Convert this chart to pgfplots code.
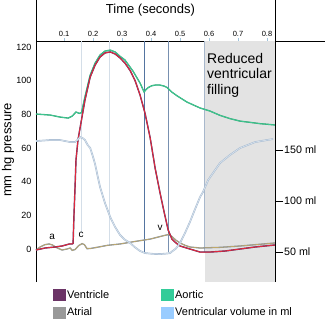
\documentclass[border=0pt]{standalone}
\usepackage{fontspec}
\setmainfont{Liberation Sans}
\usepackage{pgfplots}
\pgfplotsset{compat=1.18}
\definecolor{aort}{HTML}{3FC891}
\definecolor{ventred}{HTML}{E0283C}
\definecolor{ventdark}{HTML}{4A3A70}
\definecolor{atrtan}{HTML}{C0A868}
\definecolor{atrblue}{HTML}{8090A8}
\definecolor{volout}{HTML}{A9BDD3}
\definecolor{volin}{HTML}{E2EAF2}
\definecolor{legvent}{HTML}{6B3466}
\definecolor{legatr}{HTML}{999999}
\definecolor{legaort}{HTML}{33CC99}
\definecolor{legvol}{HTML}{99CCFF}
\definecolor{shade}{HTML}{E3E3E3}
\definecolor{vlight}{HTML}{D4DEE8}
\definecolor{vdark}{HTML}{5474A0}
\definecolor{vmid}{HTML}{7890B0}
\definecolor{vpale}{HTML}{A8B8CC}
\definecolor{ticklb}{HTML}{A0C4DC}
\begin{document}
\begin{tikzpicture}
\begin{axis}[
  scale only axis, width=239pt, height=241pt,
  xmin=0.003, xmax=0.8276, ymin=-19.6, ymax=123.6,
  axis x line*=top, axis y line*=left,
  axis line style={-, black, line width=0.8pt},
  xtick={0.1,0.2,0.3,0.4,0.5,0.6,0.7,0.8},
  xticklabel style={font=\fontsize{7.5}{8}\selectfont, inner sep=1pt, /pgf/number format/.cd, fixed, fixed zerofill, precision=1, assume math mode=true},
  x tick style={color=ticklb, line width=0.8pt},
  tick align=outside,
  major tick length=3pt,
  ytick={0,20,40,60,80,100,120},
  y tick style={draw=none},
  yticklabel style={font=\fontsize{9}{10}\selectfont, inner sep=1.5pt, /pgf/number format/assume math mode=true},
  clip=false,
  legend columns=2,
  legend cell align=left,
  legend style={at={(rel axis cs:0.071,-0.025)}, anchor=north west, draw=none, fill=none, inner sep=0pt,
    font=\fontsize{11}{12}\selectfont, row sep=4pt,
    /tikz/every even column/.append style={column sep=50pt}},
  legend image code/.code={\fill[#1] (0pt,-5.5pt) rectangle (11.5pt,5.5pt);},
]
\coordinate (bl) at (rel axis cs:0,0);
\coordinate (tl) at (rel axis cs:0,1);
\coordinate (tr) at (rel axis cs:1,1);
% shaded region
\addplot[fill=shade, draw=none, forget plot] coordinates {(0.585,-19.6) (0.585,123.6) (0.8276,123.6) (0.8276,-19.6)} -- cycle;
% vertical markers
\addplot[vlight, line width=0.8pt, forget plot] coordinates {(0.161,9.5) (0.161,123.6)};
\addplot[vlight, line width=0.8pt, forget plot] coordinates {(0.256,2.4) (0.256,123.6)};
\addplot[vdark, line width=0.7pt, forget plot] coordinates {(0.378,-1.8) (0.378,123.6)};
\addplot[vmid, line width=0.7pt, forget plot] coordinates {(0.461,-1.8) (0.461,123.6)};
\addplot[vpale, line width=1.2pt, forget plot] coordinates {(0.585,-1.5) (0.585,123.6)};
% aortic
\addplot[aort!80!black, line width=1.3pt, forget plot] coordinates {
(0.003,80.2) (0.052,79.6) (0.086,78.4) (0.114,77.8) (0.128,79.0) (0.141,81.4) (0.152,80.6) (0.160,81.0) (0.165,85) (0.172,90.5) (0.190,103.4) (0.207,110.5) (0.224,115.3) (0.241,117.6) (0.259,118.2) (0.276,117.1) (0.293,114.5) (0.310,112.3) (0.338,105.6) (0.362,98.6) (0.376,93.3) (0.383,94.8) (0.390,95.9) (0.402,97.0) (0.414,97.4) (0.431,97.4) (0.445,96.8) (0.455,96.0) (0.472,93.2) (0.490,91.0) (0.524,87.3) (0.569,83.8) (0.603,82.0) (0.638,79.4) (0.672,77.5) (0.707,76.0) (0.776,74.5) (0.828,73.7)};
\addplot[aort, line width=0.8pt, forget plot] coordinates {
(0.003,80.2) (0.052,79.6) (0.086,78.4) (0.114,77.8) (0.128,79.0) (0.141,81.4) (0.152,80.6) (0.160,81.0) (0.165,85) (0.172,90.5) (0.190,103.4) (0.207,110.5) (0.224,115.3) (0.241,117.6) (0.259,118.2) (0.276,117.1) (0.293,114.5) (0.310,112.3) (0.338,105.6) (0.362,98.6) (0.376,93.3) (0.383,94.8) (0.390,95.9) (0.402,97.0) (0.414,97.4) (0.431,97.4) (0.445,96.8) (0.455,96.0) (0.472,93.2) (0.490,91.0) (0.524,87.3) (0.569,83.8) (0.603,82.0) (0.638,79.4) (0.672,77.5) (0.707,76.0) (0.776,74.5) (0.828,73.7)};
% atrial
\addplot[atrblue, line width=1.3pt, forget plot] coordinates {
(0.003,-0.6) (0.017,1.2) (0.034,2.6) (0.048,3.0) (0.060,2.4) (0.072,1.0) (0.093,-0.6) (0.110,0) (0.121,0.6) (0.128,-0.8) (0.138,-0.3) (0.150,2.0) (0.162,3.2) (0.170,2.6) (0.179,0.2) (0.190,0.3) (0.207,0.8) (0.250,2.2) (0.293,3.0) (0.345,4.5) (0.397,5.9) (0.431,7.4) (0.452,8.3) (0.462,8.6) (0.472,7.4) (0.486,5.2) (0.500,3.6) (0.517,2.2) (0.534,1.2) (0.569,0.6) (0.640,1.0) (0.707,1.8) (0.828,3.6)};
\addplot[atrtan, line width=0.7pt, forget plot] coordinates {
(0.003,-0.6) (0.017,1.2) (0.034,2.6) (0.048,3.0) (0.060,2.4) (0.072,1.0) (0.093,-0.6) (0.110,0) (0.121,0.6) (0.128,-0.8) (0.138,-0.3) (0.150,2.0) (0.162,3.2) (0.170,2.6) (0.179,0.2) (0.190,0.3) (0.207,0.8) (0.250,2.2) (0.293,3.0) (0.345,4.5) (0.397,5.9) (0.431,7.4) (0.452,8.3) (0.462,8.6) (0.472,7.4) (0.486,5.2) (0.500,3.6) (0.517,2.2) (0.534,1.2) (0.569,0.6) (0.640,1.0) (0.707,1.8) (0.828,3.6)};
% ventricle
\addplot[ventdark, line width=1.4pt, forget plot] coordinates {
(0.003,-0.6) (0.034,0.6) (0.069,1.2) (0.093,1.8) (0.110,2.6) (0.118,3.0) (0.128,3.0) (0.131,3.4) (0.134,20) (0.138,38) (0.141,53) (0.148,65) (0.155,71.9) (0.172,88.5) (0.190,102.2) (0.207,109.3) (0.224,114.1) (0.241,116.5) (0.259,117.1) (0.276,115.9) (0.293,113.5) (0.310,110.5) (0.328,106) (0.345,100) (0.362,91.5) (0.379,80.8) (0.397,66.0) (0.414,48.1) (0.431,33.3) (0.445,22.0) (0.459,11.3) (0.472,5.9) (0.486,3.6) (0.500,1.8) (0.534,0) (0.569,-1.8) (0.603,-1.8) (0.655,-1.2) (0.707,0) (0.759,1.2) (0.828,2.4)};
\addplot[ventred, line width=1.0pt, forget plot] coordinates {
(0.003,-0.6) (0.034,0.6) (0.069,1.2) (0.093,1.8) (0.110,2.6) (0.118,3.0) (0.128,3.0) (0.131,3.4) (0.134,20) (0.138,38) (0.141,53) (0.148,65) (0.155,71.9) (0.172,88.5) (0.190,102.2) (0.207,109.3) (0.224,114.1) (0.241,116.5) (0.259,117.1) (0.276,115.9) (0.293,113.5) (0.310,110.5) (0.328,106) (0.345,100) (0.362,91.5) (0.379,80.8) (0.397,66.0) (0.414,48.1) (0.431,33.3) (0.445,22.0) (0.459,11.3) (0.472,5.9) (0.486,3.6) (0.500,1.8) (0.534,0) (0.569,-1.8) (0.603,-1.8) (0.655,-1.2) (0.707,0) (0.759,1.2) (0.828,2.4)};
% legend
\addlegendimage{legvent}\addlegendentry{Ventricle}
\addlegendimage{legaort}\addlegendentry{Aortic}
\addlegendimage{legatr}\addlegendentry{Atrial}
\addlegendimage{legvol}\addlegendentry{Ventricular volume in ml}
% annotations
\node[font=\fontsize{10}{11}\selectfont, inner sep=0pt] at (axis cs:0.059,7.1) {a};
\node[font=\fontsize{10}{11}\selectfont, inner sep=0pt] at (axis cs:0.159,8.3) {c};
\node[font=\fontsize{10}{11}\selectfont, inner sep=0pt] at (axis cs:0.431,12.5) {v};
\node[font=\fontsize{14}{15.5}\selectfont, align=left, anchor=north west, inner sep=0pt] at (axis cs:0.593,116.5) {Reduced\\ventricular\\filling};
\node[font=\fontsize{13}{14}\selectfont, rotate=90, inner sep=0pt] at ([xshift=-28pt]rel axis cs:0,0.548) {mm hg pressure};
\node[font=\fontsize{13}{14}\selectfont, inner sep=0pt] at ([yshift=31pt]rel axis cs:0.479,1) {Time (seconds)};
\end{axis}
\begin{axis}[
  scale only axis, width=239pt, height=241pt,
  xmin=0.003, xmax=0.8276, ymin=20.6, ymax=256.9,
  axis x line=none, axis y line*=right,
  axis line style={-, black, line width=0.8pt},
  ytick={50,100,150}, yticklabels={50 ml,100 ml,150 ml},
  tick align=outside, major tick length=8pt,
  y tick style={black, line width=0.8pt},
  yticklabel style={font=\fontsize{10.7}{12}\selectfont, inner sep=1pt},
  clip=false,
]
\addplot[volout, line width=1.7pt] coordinates {
(0.003,158.8) (0.052,159.8) (0.086,159.8) (0.121,157.8) (0.138,157.8) (0.148,160.5) (0.155,162.7) (0.165,161.5) (0.172,159.8) (0.181,155) (0.190,152) (0.199,144) (0.207,136) (0.216,124) (0.224,113.7) (0.241,98.0) (0.259,84.3) (0.276,74.5) (0.293,66.7) (0.310,62) (0.328,58.8) (0.345,54.5) (0.362,51.0) (0.379,49.0) (0.405,48.2) (0.431,48.0) (0.455,48.5) (0.466,49.0) (0.472,50.5) (0.486,53.5) (0.500,58.8) (0.517,68.6) (0.534,79.4) (0.552,92.2) (0.569,103.9) (0.579,108.8) (0.597,120.6) (0.621,130.4) (0.638,137.3) (0.672,145.1) (0.707,152.0) (0.759,157.8) (0.821,160.8)};
\addplot[volin, line width=0.5pt] coordinates {
(0.003,158.8) (0.052,159.8) (0.086,159.8) (0.121,157.8) (0.138,157.8) (0.148,160.5) (0.155,162.7) (0.165,161.5) (0.172,159.8) (0.181,155) (0.190,152) (0.199,144) (0.207,136) (0.216,124) (0.224,113.7) (0.241,98.0) (0.259,84.3) (0.276,74.5) (0.293,66.7) (0.310,62) (0.328,58.8) (0.345,54.5) (0.362,51.0) (0.379,49.0) (0.405,48.2) (0.431,48.0) (0.455,48.5) (0.466,49.0) (0.472,50.5) (0.486,53.5) (0.500,58.8) (0.517,68.6) (0.534,79.4) (0.552,92.2) (0.569,103.9) (0.579,108.8) (0.597,120.6) (0.621,130.4) (0.638,137.3) (0.672,145.1) (0.707,152.0) (0.759,157.8) (0.821,160.8)};
\end{axis}
\draw[black, line width=0.8pt] (tl) -- ([yshift=42pt]tl);
\draw[black, line width=0.8pt] (tr) -- ([yshift=42pt]tr);
\draw[black, line width=0.8pt] (tr) -- ([xshift=51pt]tr);
\pgfresetboundingbox
\path[use as bounding box] (bl) ++(-36pt,-43pt) rectangle ++(325pt,325pt);
\end{tikzpicture}
\end{document}
